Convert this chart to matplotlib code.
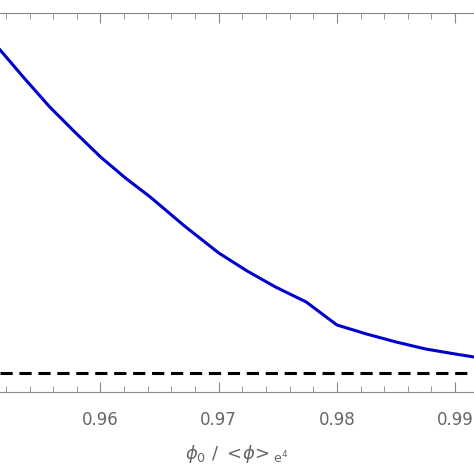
import matplotlib.pyplot as plt
from matplotlib.ticker import MultipleLocator

# curve values (arbitrary vertical units)
x_curve = [0.9515, 0.9536, 0.9557, 0.9579, 0.96, 0.9621, 0.9642, 0.9671, 0.97,
           0.9724, 0.9748, 0.9774, 0.98, 0.9825, 0.985, 0.9875, 0.99, 0.9916]
y_curve = [3.42, 3.13, 2.85, 2.59, 2.35, 2.14, 1.95, 1.66, 1.39,
           1.21, 1.05, 0.90, 0.67, 0.58, 0.50, 0.43, 0.38, 0.35]
x_dash = [0.9515, 0.9916]
y_dash = [0.19, 0.19]

grey = "#666666"
fig = plt.figure(figsize=(4.74, 4.74), dpi=100)
ax = fig.add_axes([0, 0.173, 1, 0.80])
ax.plot(x_curve, y_curve, color="#0000cc", linewidth=2.2)
ax.plot(x_dash, y_dash, color="black", linewidth=2.2, linestyle=(0, (4, 2.2)))
ax.set_xlim(0.9515, 0.9916)
ax.set_ylim(0, 3.79)

for s in ("left", "right"):
    ax.spines[s].set_visible(False)
for s in ("bottom", "top"):
    ax.spines[s].set_color("#888888")
ax.set_yticks([])
ax.xaxis.set_major_locator(MultipleLocator(0.01))
ax.xaxis.set_minor_locator(MultipleLocator(0.002))
ax.tick_params(axis="x", which="major", length=7, color="#888888", direction="in",
               labelcolor=grey, labelsize=12, pad=14, top=True)
ax.tick_params(axis="x", which="minor", length=4, color="#888888", direction="in", top=True)
ax.set_xticks([0.96, 0.97, 0.98, 0.99])
ax.set_xticklabels(["0.96", "0.97", "0.98", "0.99"])
ax.set_xlabel(r"$\phi_0\ /\ <\!\phi\!>_{\mathrm{e}^4}$", color=grey, fontsize=13, labelpad=10)

fig.savefig("out.png", dpi=100)
